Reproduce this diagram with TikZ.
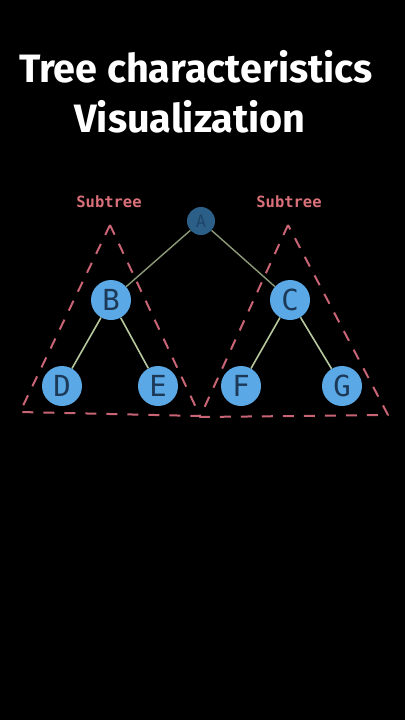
\documentclass[tikz,border=0pt]{standalone}
\usepackage{fontspec}
\newfontfamily\titlefont{Fira Sans}
\newfontfamily\monofont{DejaVu Sans Mono}
\definecolor{nodeblue}{HTML}{5AA9E6}
\definecolor{rootblue}{HTML}{2C5F88}
\definecolor{letterblue}{HTML}{1C3A58}
\definecolor{rootletter}{HTML}{1E4468}
\definecolor{edgeA}{HTML}{8C9A78}
\definecolor{edgeB}{HTML}{B8C89E}
\definecolor{dashpink}{HTML}{C86474}
\definecolor{labelpink}{HTML}{D9707A}
\begin{document}
\begin{tikzpicture}[x=1pt,y=-1pt,
  treenode/.style={circle,fill=nodeblue,minimum size=40pt,inner sep=0pt,text=letterblue,font=\monofont\fontsize{29}{29}\selectfont},
  rootnode/.style={circle,fill=rootblue,minimum size=28pt,inner sep=0pt,text=rootletter,font=\monofont\fontsize{17}{17}\selectfont},
  topedge/.style={draw=edgeA,line width=1.4pt},
  lowedge/.style={draw=edgeB,line width=1.6pt},
  subtri/.style={draw=dashpink,line width=2pt,dash pattern=on 11pt off 10pt,line join=round},
  sublabel/.style={text=labelpink,font=\monofont\bfseries\fontsize{15.5}{15.5}\selectfont},
  titletext/.style={text=white,font=\titlefont\bfseries\fontsize{39.6}{39.6}\selectfont}]
\fill[black] (0,0) rectangle (405,720);
\useasboundingbox (0,0) rectangle (405,720);

\node[titletext] (t1) at (196,67) {Tree characteristics};
\node[titletext] (t2) at (190,117) {Visualization};

\node[sublabel] (l1) at (109,202) {Subtree};
\node[sublabel] (l2) at (289,202) {Subtree};

\coordinate (p1) at (110,225);
\coordinate (p2) at (20,412);
\coordinate (p3) at (200,416);
\coordinate (q1) at (288,225);
\coordinate (q2) at (200,417);
\coordinate (q3) at (388,415);
\draw[subtri] (p1) -- (p2) -- (p3) -- cycle;
\draw[subtri] (q1) -- (q2) -- (q3) -- cycle;

\node[rootnode] (A) at (201,221) {A};
\node[treenode] (B) at (111,300) {B};
\node[treenode] (C) at (290,300) {C};
\node[treenode] (D) at (62,386) {D};
\node[treenode] (E) at (158,386) {E};
\node[treenode] (F) at (241,386) {F};
\node[treenode] (G) at (342,386) {G};

\draw[topedge] (A) -- (B);
\draw[topedge] (A) -- (C);
\draw[lowedge] (B) -- (D);
\draw[lowedge] (B) -- (E);
\draw[lowedge] (C) -- (F);
\draw[lowedge] (C) -- (G);
\end{tikzpicture}
\end{document}
